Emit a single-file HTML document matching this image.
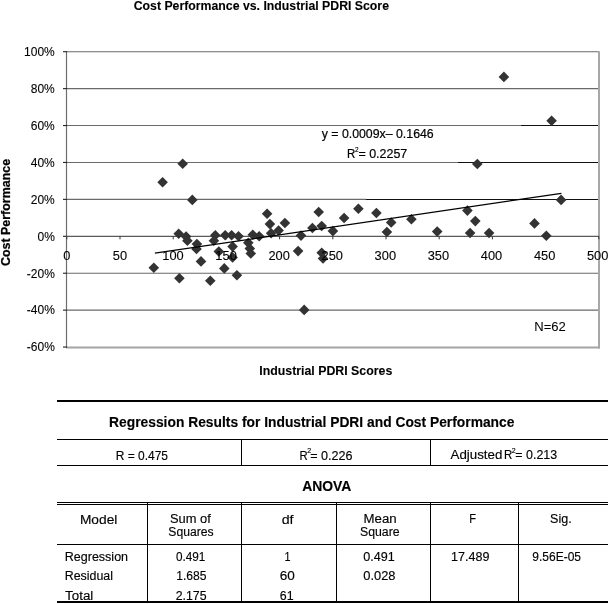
<!DOCTYPE html>
<html><head><meta charset="utf-8"><style>
html,body{margin:0;padding:0;background:#fff;}
body{width:609px;height:604px;overflow:hidden;position:relative;}
svg{position:absolute;left:0;top:0;filter:grayscale(1);}
text{font-family:"Liberation Sans", sans-serif;fill:#000;stroke:#000;}
</style></head><body>
<svg width="609" height="604" viewBox="0 0 609 604">
<line x1="66" y1="51.70" x2="599" y2="51.70" stroke="#6a6a6a" stroke-width="1.1"/>
<line x1="66" y1="88.62" x2="599" y2="88.62" stroke="#6a6a6a" stroke-width="1.1"/>
<line x1="66" y1="125.54" x2="521" y2="125.54" stroke="#6a6a6a" stroke-width="1.1"/>
<rect x="521" y="125" width="78" height="1" fill="#111"/>
<line x1="66" y1="162.46" x2="458" y2="162.46" stroke="#6a6a6a" stroke-width="1.1"/>
<rect x="458" y="162" width="141" height="1" fill="#111"/>
<line x1="66" y1="199.38" x2="366" y2="199.38" stroke="#6a6a6a" stroke-width="1.1"/>
<rect x="366" y="199" width="233" height="1" fill="#111"/>
<line x1="66" y1="273.22" x2="599" y2="273.22" stroke="#6a6a6a" stroke-width="1.1"/>
<line x1="66" y1="310.14" x2="599" y2="310.14" stroke="#6a6a6a" stroke-width="1.1"/>
<line x1="66" y1="347.56" x2="600" y2="347.56" stroke="#a4a4a4" stroke-width="2"/>
<line x1="599" y1="51.20" x2="599" y2="348.56" stroke="#a8a8a8" stroke-width="2"/>
<line x1="66.5" y1="51.20" x2="66.5" y2="347.56" stroke="#6e6e6e" stroke-width="1.2"/>
<line x1="63" y1="347.06" x2="67" y2="347.06" stroke="#222" stroke-width="1.1"/>
<line x1="63" y1="310.14" x2="67" y2="310.14" stroke="#222" stroke-width="1.1"/>
<line x1="63" y1="273.22" x2="67" y2="273.22" stroke="#222" stroke-width="1.1"/>
<line x1="63" y1="236.30" x2="67" y2="236.30" stroke="#222" stroke-width="1.1"/>
<line x1="63" y1="199.38" x2="67" y2="199.38" stroke="#222" stroke-width="1.1"/>
<line x1="63" y1="162.46" x2="67" y2="162.46" stroke="#222" stroke-width="1.1"/>
<line x1="63" y1="125.54" x2="67" y2="125.54" stroke="#222" stroke-width="1.1"/>
<line x1="63" y1="88.62" x2="67" y2="88.62" stroke="#222" stroke-width="1.1"/>
<line x1="63" y1="51.70" x2="67" y2="51.70" stroke="#222" stroke-width="1.1"/>
<line x1="66" y1="236.30" x2="599" y2="236.30" stroke="#5a5a5a" stroke-width="1.2"/>
<line x1="66.80" y1="236.30" x2="66.80" y2="239.30" stroke="#333" stroke-width="1"/>
<line x1="120.00" y1="236.30" x2="120.00" y2="239.30" stroke="#333" stroke-width="1"/>
<line x1="173.20" y1="236.30" x2="173.20" y2="239.30" stroke="#333" stroke-width="1"/>
<line x1="226.40" y1="236.30" x2="226.40" y2="239.30" stroke="#333" stroke-width="1"/>
<line x1="279.60" y1="236.30" x2="279.60" y2="239.30" stroke="#333" stroke-width="1"/>
<line x1="332.80" y1="236.30" x2="332.80" y2="239.30" stroke="#333" stroke-width="1"/>
<line x1="386.00" y1="236.30" x2="386.00" y2="239.30" stroke="#333" stroke-width="1"/>
<line x1="439.20" y1="236.30" x2="439.20" y2="239.30" stroke="#333" stroke-width="1"/>
<line x1="492.40" y1="236.30" x2="492.40" y2="239.30" stroke="#333" stroke-width="1"/>
<line x1="545.60" y1="236.30" x2="545.60" y2="239.30" stroke="#333" stroke-width="1"/>
<line x1="598.80" y1="236.30" x2="598.80" y2="239.30" stroke="#333" stroke-width="1"/>
<path d="M503.9 71.6L509.2 76.9L503.9 82.2L498.6 76.9Z" fill="#333"/>
<path d="M551.6 115.4L556.9 120.7L551.6 126.0L546.3 120.7Z" fill="#333"/>
<path d="M477.3 158.7L482.6 164.0L477.3 169.3L472.0 164.0Z" fill="#333"/>
<path d="M182.7 158.5L188.0 163.8L182.7 169.1L177.4 163.8Z" fill="#333"/>
<path d="M162.6 176.9L167.9 182.2L162.6 187.5L157.3 182.2Z" fill="#333"/>
<path d="M192.3 194.6L197.6 199.9L192.3 205.2L187.0 199.9Z" fill="#333"/>
<path d="M561.1 194.6L566.4 199.9L561.1 205.2L555.8 199.9Z" fill="#333"/>
<path d="M178.7 228.4L184.0 233.7L178.7 239.0L173.4 233.7Z" fill="#333"/>
<path d="M186.1 231.3L191.4 236.6L186.1 241.9L180.8 236.6Z" fill="#333"/>
<path d="M187.4 235.4L192.7 240.7L187.4 246.0L182.1 240.7Z" fill="#333"/>
<path d="M196.9 238.7L202.2 244.0L196.9 249.3L191.6 244.0Z" fill="#333"/>
<path d="M196.5 243.7L201.8 249.0L196.5 254.3L191.2 249.0Z" fill="#333"/>
<path d="M201.0 256.1L206.3 261.4L201.0 266.7L195.7 261.4Z" fill="#333"/>
<path d="M153.8 262.5L159.1 267.8L153.8 273.1L148.5 267.8Z" fill="#333"/>
<path d="M179.4 273.0L184.7 278.3L179.4 283.6L174.1 278.3Z" fill="#333"/>
<path d="M210.3 275.4L215.6 280.7L210.3 286.0L205.0 280.7Z" fill="#333"/>
<path d="M215.3 230.0L220.6 235.3L215.3 240.6L210.0 235.3Z" fill="#333"/>
<path d="M225.2 230.0L230.5 235.3L225.2 240.6L219.9 235.3Z" fill="#333"/>
<path d="M231.6 230.0L236.9 235.3L231.6 240.6L226.3 235.3Z" fill="#333"/>
<path d="M238.5 231.0L243.8 236.3L238.5 241.6L233.2 236.3Z" fill="#333"/>
<path d="M252.8 229.5L258.1 234.8L252.8 240.1L247.5 234.8Z" fill="#333"/>
<path d="M259.2 231.0L264.5 236.3L259.2 241.6L253.9 236.3Z" fill="#333"/>
<path d="M213.9 235.4L219.2 240.7L213.9 246.0L208.6 240.7Z" fill="#333"/>
<path d="M232.6 241.3L237.9 246.6L232.6 251.9L227.3 246.6Z" fill="#333"/>
<path d="M218.8 246.2L224.1 251.5L218.8 256.8L213.5 251.5Z" fill="#333"/>
<path d="M232.6 252.1L237.9 257.4L232.6 262.7L227.3 257.4Z" fill="#333"/>
<path d="M248.3 237.4L253.6 242.7L248.3 248.0L243.0 242.7Z" fill="#333"/>
<path d="M249.8 243.3L255.1 248.6L249.8 253.9L244.5 248.6Z" fill="#333"/>
<path d="M250.8 248.2L256.1 253.5L250.8 258.8L245.5 253.5Z" fill="#333"/>
<path d="M224.3 263.1L229.6 268.4L224.3 273.7L219.0 268.4Z" fill="#333"/>
<path d="M236.9 270.0L242.2 275.3L236.9 280.6L231.6 275.3Z" fill="#333"/>
<path d="M267.1 208.5L272.4 213.8L267.1 219.1L261.8 213.8Z" fill="#333"/>
<path d="M269.9 218.8L275.2 224.1L269.9 229.4L264.6 224.1Z" fill="#333"/>
<path d="M284.9 217.7L290.2 223.0L284.9 228.3L279.6 223.0Z" fill="#333"/>
<path d="M271.1 228.0L276.4 233.3L271.1 238.6L265.8 233.3Z" fill="#333"/>
<path d="M278.6 225.2L283.9 230.5L278.6 235.8L273.3 230.5Z" fill="#333"/>
<path d="M301.0 230.3L306.3 235.6L301.0 240.9L295.7 235.6Z" fill="#333"/>
<path d="M298.1 245.8L303.4 251.1L298.1 256.4L292.8 251.1Z" fill="#333"/>
<path d="M312.4 222.7L317.7 228.0L312.4 233.3L307.1 228.0Z" fill="#333"/>
<path d="M318.7 206.7L324.0 212.0L318.7 217.3L313.4 212.0Z" fill="#333"/>
<path d="M321.7 220.7L327.0 226.0L321.7 231.3L316.4 226.0Z" fill="#333"/>
<path d="M332.9 225.8L338.2 231.1L332.9 236.4L327.6 231.1Z" fill="#333"/>
<path d="M344.1 212.7L349.4 218.0L344.1 223.3L338.8 218.0Z" fill="#333"/>
<path d="M358.4 203.4L363.7 208.7L358.4 214.0L353.1 208.7Z" fill="#333"/>
<path d="M321.7 247.5L327.0 252.8L321.7 258.1L316.4 252.8Z" fill="#333"/>
<path d="M323.0 253.1L328.3 258.4L323.0 263.7L317.7 258.4Z" fill="#333"/>
<path d="M376.4 207.7L381.7 213.0L376.4 218.3L371.1 213.0Z" fill="#333"/>
<path d="M391.2 217.2L396.5 222.5L391.2 227.8L385.9 222.5Z" fill="#333"/>
<path d="M386.9 226.7L392.2 232.0L386.9 237.3L381.6 232.0Z" fill="#333"/>
<path d="M411.4 213.9L416.7 219.2L411.4 224.5L406.1 219.2Z" fill="#333"/>
<path d="M437.2 226.3L442.5 231.6L437.2 236.9L431.9 231.6Z" fill="#333"/>
<path d="M467.4 205.3L472.7 210.6L467.4 215.9L462.1 210.6Z" fill="#333"/>
<path d="M475.3 215.8L480.6 221.1L475.3 226.4L470.0 221.1Z" fill="#333"/>
<path d="M470.1 227.7L475.4 233.0L470.1 238.3L464.8 233.0Z" fill="#333"/>
<path d="M489.1 227.7L494.4 233.0L489.1 238.3L483.8 233.0Z" fill="#333"/>
<path d="M534.5 218.1L539.8 223.4L534.5 228.7L529.2 223.4Z" fill="#333"/>
<path d="M546.3 230.5L551.6 235.8L546.3 241.1L541.0 235.8Z" fill="#333"/>
<path d="M304.2 304.6L309.5 309.9L304.2 315.2L298.9 309.9Z" fill="#333"/>
<line x1="154.9" y1="253.2" x2="561.4" y2="193.3" stroke="#000" stroke-width="1.3"/>
<rect x="57" y="400" width="551" height="2" fill="#000"/>
<rect x="57" y="439" width="551" height="1" fill="#000"/>
<rect x="57" y="465" width="551" height="1" fill="#000"/>
<rect x="241" y="439" width="1" height="27" fill="#000"/>
<rect x="430" y="439" width="1" height="27" fill="#000"/>
<rect x="57" y="502" width="551" height="1" fill="#000"/>
<rect x="57" y="504" width="551" height="1" fill="#000"/>
<rect x="57" y="544" width="551" height="1" fill="#000"/>
<rect x="147" y="503" width="1" height="99" fill="#000"/>
<rect x="241" y="503" width="1" height="99" fill="#000"/>
<rect x="336" y="503" width="1" height="99" fill="#000"/>
<rect x="430" y="503" width="1" height="99" fill="#000"/>
<rect x="518" y="503" width="1" height="99" fill="#000"/>
<rect x="57" y="601" width="551" height="2" fill="#000"/>
<text x="133.71" y="9.6" font-size="12" font-weight="bold" stroke-width="0.1" textLength="255.27" lengthAdjust="spacingAndGlyphs">Cost Performance vs. Industrial PDRI Score</text>
<text x="259.30" y="374.5" font-size="13.4" font-weight="bold" stroke-width="0.1" textLength="132.95" lengthAdjust="spacingAndGlyphs">Industrial PDRI Scores</text>
<text x="321.70" y="137.5" font-size="12" stroke-width="0.2" textLength="112.01" lengthAdjust="spacingAndGlyphs">y = 0.0009x– 0.1646</text>
<text x="347.08" y="157.7" font-size="12" stroke-width="0.2" textLength="8.30" lengthAdjust="spacingAndGlyphs">R</text>
<text x="358.44" y="157.7" font-size="12" stroke-width="0.2" textLength="48.84" lengthAdjust="spacingAndGlyphs">= 0.2257</text>
<text x="534.25" y="330.8" font-size="13.3" stroke-width="0.05" textLength="31.65" lengthAdjust="spacingAndGlyphs">N=62</text>
<text x="109.10" y="426.6" font-size="14.5" font-weight="bold" stroke-width="0.15" textLength="405.33" lengthAdjust="spacingAndGlyphs">Regression Results for Industrial PDRI and Cost Performance</text>
<text x="115.74" y="459.5" font-size="12.8" stroke-width="0.15" textLength="52.25" lengthAdjust="spacingAndGlyphs">R = 0.475</text>
<text x="299.59" y="459.5" font-size="12.8" stroke-width="0.15" textLength="8.18" lengthAdjust="spacingAndGlyphs">R</text>
<text x="310.23" y="459.5" font-size="12.8" stroke-width="0.15" textLength="42.39" lengthAdjust="spacingAndGlyphs">= 0.226</text>
<text x="450.50" y="459.3" font-size="12.8" stroke-width="0.15" textLength="51.81" lengthAdjust="spacingAndGlyphs">Adjusted</text>
<text x="503.98" y="459.3" font-size="12.8" stroke-width="0.15" textLength="8.30" lengthAdjust="spacingAndGlyphs">R</text>
<text x="515.34" y="459.3" font-size="12.8" stroke-width="0.15" textLength="41.87" lengthAdjust="spacingAndGlyphs">= 0.213</text>
<text x="302.22" y="490.8" font-size="14.5" font-weight="bold" stroke-width="0.15" textLength="49.19" lengthAdjust="spacingAndGlyphs">ANOVA</text>
<text x="79.90" y="523.7" font-size="12.8" stroke-width="0.15" textLength="37.46" lengthAdjust="spacingAndGlyphs">Model</text>
<text x="169.92" y="523.4" font-size="12.5" stroke-width="0.15" textLength="40.85" lengthAdjust="spacingAndGlyphs">Sum of</text>
<text x="168.35" y="535.9" font-size="12.5" stroke-width="0.15" textLength="45.27" lengthAdjust="spacingAndGlyphs">Squares</text>
<text x="281.73" y="523.5" font-size="12.5" stroke-width="0.15" textLength="11.84" lengthAdjust="spacingAndGlyphs">df</text>
<text x="363.54" y="523.4" font-size="12.5" stroke-width="0.15" textLength="33.07" lengthAdjust="spacingAndGlyphs">Mean</text>
<text x="359.95" y="535.9" font-size="12.5" stroke-width="0.15" textLength="39.66" lengthAdjust="spacingAndGlyphs">Square</text>
<text x="469.31" y="523.4" font-size="12.5" stroke-width="0.15" textLength="6.79" lengthAdjust="spacingAndGlyphs">F</text>
<text x="550.13" y="523.4" font-size="12.5" stroke-width="0.15" textLength="21.67" lengthAdjust="spacingAndGlyphs">Sig.</text>
<text x="64.80" y="560.7" font-size="12.5" stroke-width="0.15" textLength="63.27" lengthAdjust="spacingAndGlyphs">Regression</text>
<text x="64.71" y="579.8" font-size="12.5" stroke-width="0.15" textLength="48.26" lengthAdjust="spacingAndGlyphs">Residual</text>
<text x="65.13" y="599.5" font-size="12.5" stroke-width="0.15" textLength="28.20" lengthAdjust="spacingAndGlyphs">Total</text>
<text x="175.89" y="560.9" font-size="12.5" stroke-width="0.15" textLength="29.35" lengthAdjust="spacingAndGlyphs">0.491</text>
<text x="176.19" y="580.1" font-size="12.5" stroke-width="0.15" textLength="30.31" lengthAdjust="spacingAndGlyphs">1.685</text>
<text x="175.68" y="599.6" font-size="12.5" stroke-width="0.15" textLength="30.82" lengthAdjust="spacingAndGlyphs">2.175</text>
<text x="284.49" y="560.9" font-size="12.5" stroke-width="0.15" textLength="6.01" lengthAdjust="spacingAndGlyphs">1</text>
<text x="279.72" y="580.1" font-size="12.5" stroke-width="0.15" textLength="15.07" lengthAdjust="spacingAndGlyphs">60</text>
<text x="279.78" y="599.6" font-size="12.5" stroke-width="0.15" textLength="13.79" lengthAdjust="spacingAndGlyphs">61</text>
<text x="363.36" y="560.9" font-size="12.5" stroke-width="0.15" textLength="31.52" lengthAdjust="spacingAndGlyphs">0.491</text>
<text x="363.35" y="580.1" font-size="12.5" stroke-width="0.15" textLength="32.18" lengthAdjust="spacingAndGlyphs">0.028</text>
<text x="451.06" y="560.9" font-size="12.5" stroke-width="0.15" textLength="38.32" lengthAdjust="spacingAndGlyphs">17.489</text>
<text x="532.36" y="560.9" font-size="12.5" stroke-width="0.15" textLength="48.63" lengthAdjust="spacingAndGlyphs">9.56E-05</text>
<text x="0" y="0" font-size="13" font-weight="bold" stroke-width="0.25" textLength="107.08" lengthAdjust="spacingAndGlyphs" transform="translate(10.0 266.00) rotate(-90)">Cost Performance</text>
<text x="355.0" y="152.0" font-size="6.5" stroke-width="0.15">2</text>
<text x="307.3" y="453.3" font-size="7" stroke-width="0.15">2</text>
<text x="511.8" y="452.6" font-size="7" stroke-width="0.15">2</text>
<text x="54.8" y="351.36" font-size="12" text-anchor="end" stroke-width="0.1">-60%</text>
<text x="54.8" y="314.44" font-size="12" text-anchor="end" stroke-width="0.1">-40%</text>
<text x="54.8" y="277.52" font-size="12" text-anchor="end" stroke-width="0.1">-20%</text>
<text x="54.8" y="240.60" font-size="12" text-anchor="end" stroke-width="0.1">0%</text>
<text x="54.8" y="203.68" font-size="12" text-anchor="end" stroke-width="0.1">20%</text>
<text x="54.8" y="166.76" font-size="12" text-anchor="end" stroke-width="0.1">40%</text>
<text x="54.8" y="129.84" font-size="12" text-anchor="end" stroke-width="0.1">60%</text>
<text x="54.8" y="92.92" font-size="12" text-anchor="end" stroke-width="0.1">80%</text>
<text x="54.8" y="56.00" font-size="12" text-anchor="end" stroke-width="0.1">100%</text>
<text x="66.80" y="259.8" font-size="12" text-anchor="middle" stroke-width="0.1" textLength="7.14" lengthAdjust="spacingAndGlyphs">0</text>
<text x="119.89" y="259.8" font-size="12" text-anchor="middle" stroke-width="0.1" textLength="14.28" lengthAdjust="spacingAndGlyphs">50</text>
<text x="172.98" y="259.8" font-size="12" text-anchor="middle" stroke-width="0.1" textLength="21.42" lengthAdjust="spacingAndGlyphs">100</text>
<text x="226.07" y="259.8" font-size="12" text-anchor="middle" stroke-width="0.1" textLength="21.42" lengthAdjust="spacingAndGlyphs">150</text>
<text x="279.16" y="259.8" font-size="12" text-anchor="middle" stroke-width="0.1" textLength="21.42" lengthAdjust="spacingAndGlyphs">200</text>
<text x="332.25" y="259.8" font-size="12" text-anchor="middle" stroke-width="0.1" textLength="21.42" lengthAdjust="spacingAndGlyphs">250</text>
<text x="385.34" y="259.8" font-size="12" text-anchor="middle" stroke-width="0.1" textLength="21.42" lengthAdjust="spacingAndGlyphs">300</text>
<text x="438.43" y="259.8" font-size="12" text-anchor="middle" stroke-width="0.1" textLength="21.42" lengthAdjust="spacingAndGlyphs">350</text>
<text x="491.52" y="259.8" font-size="12" text-anchor="middle" stroke-width="0.1" textLength="21.42" lengthAdjust="spacingAndGlyphs">400</text>
<text x="544.61" y="259.8" font-size="12" text-anchor="middle" stroke-width="0.1" textLength="21.42" lengthAdjust="spacingAndGlyphs">450</text>
<text x="597.70" y="259.8" font-size="12" text-anchor="middle" stroke-width="0.1" textLength="21.42" lengthAdjust="spacingAndGlyphs">500</text>
</svg>
</body></html>
